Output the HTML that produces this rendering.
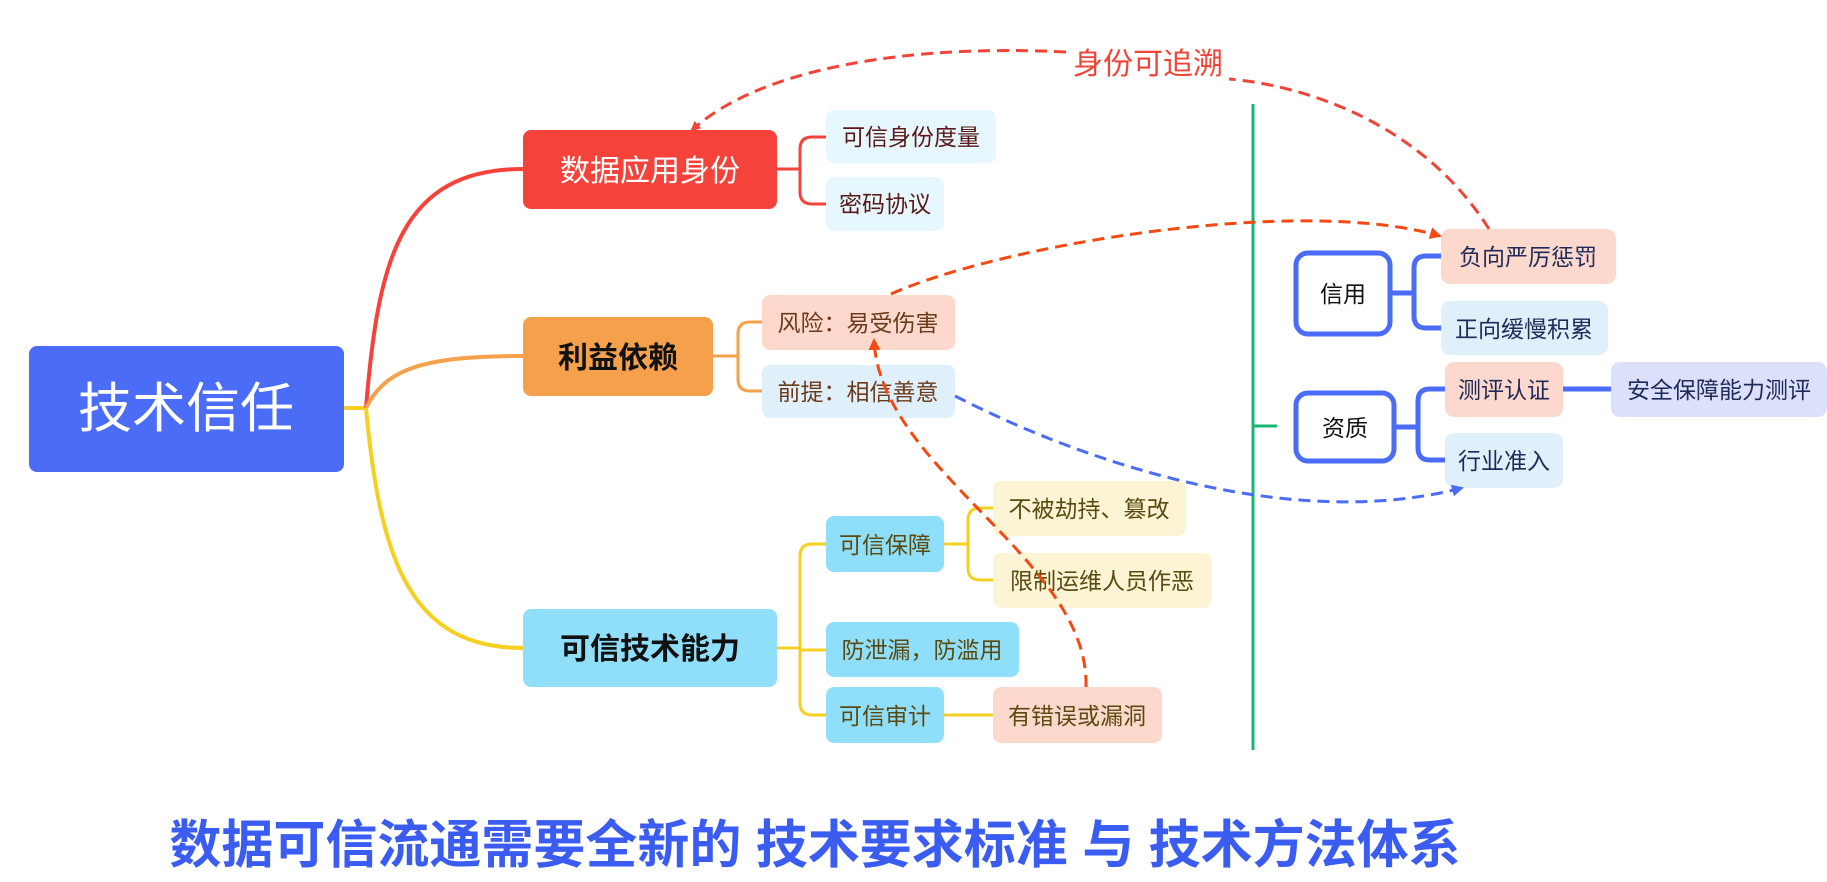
<!DOCTYPE html>
<html><head><meta charset="utf-8"><style>
html,body{margin:0;padding:0;background:#fff;}
svg{display:block;}
text{font-family:"Liberation Sans","Noto Sans CJK SC",sans-serif;}
</style></head><body>
<svg width="1827" height="882" viewBox="0 0 1827 882" xmlns="http://www.w3.org/2000/svg">
<defs>
<marker id="ar" markerWidth="10" markerHeight="10" refX="8" refY="5" orient="auto" markerUnits="userSpaceOnUse"><path d="M0,0 L10,5 L0,10 z" fill="#f04438"/></marker>
<marker id="ao" markerWidth="12" markerHeight="12" refX="10" refY="6" orient="auto" markerUnits="userSpaceOnUse"><path d="M0,0 L12,6 L0,12 z" fill="#f24a12"/></marker>
<marker id="ab" markerWidth="12" markerHeight="12" refX="10" refY="6" orient="auto" markerUnits="userSpaceOnUse"><path d="M0,0 L12,6 L0,12 z" fill="#4a6cf7"/></marker>
</defs>

<line x1="344" y1="408" x2="366" y2="408" stroke="#f5d020" stroke-width="4"/>
<path d="M366,408 C378,260 400,169 523,169" fill="none" stroke="#f5433b" stroke-width="4"/>
<path d="M366,408 C385,370 420,356 523,356" fill="none" stroke="#f5a04a" stroke-width="4"/>
<path d="M366,408 C380,560 410,648 523,648" fill="none" stroke="#f5d020" stroke-width="4"/>

<g fill="none" stroke-width="3">
<path d="M777,169 H800 M826,137 H812 Q800,137 800,149 V192 Q800,204 812,204 H826" stroke="#f5433b"/>
<path d="M713,356 H738 M762,322 H750 Q738,322 738,334 V379 Q738,391 750,391 H762" stroke="#f5a04a"/>
<path d="M777,648 H800 M826,544 H812 Q800,544 800,556 V703 Q800,715 812,715 H826 M800,650 H826" stroke="#f5d020"/>
<path d="M944,544 H968 M993,508 H980 Q968,508 968,520 V568 Q968,580 980,580 H993" stroke="#f5d020"/>
<path d="M944,715 H993" stroke="#f5d020"/>
</g>
<g fill="none" stroke="#4a6cf7" stroke-width="5">
<path d="M1390,293 H1414 M1441,256 H1426 Q1414,256 1414,268 V316 Q1414,328 1426,328 H1441"/>
<path d="M1394,427 H1418 M1445,389 H1430 Q1418,389 1418,401 V448 Q1418,460 1430,460 H1445"/>
<path d="M1563,389 H1611"/>
</g>
<line x1="1253" y1="104" x2="1253" y2="750" stroke="#18b574" stroke-width="3"/>
<line x1="1253" y1="426" x2="1277" y2="426" stroke="#18b574" stroke-width="3"/>

<rect x="29" y="346" width="315" height="126" rx="8" fill="#4a6cf7"/>
<text x="186" y="427" font-size="54" fill="#fff" text-anchor="middle">技术信任</text>

<rect x="523" y="130" width="254" height="79" rx="8" fill="#f5433b"/>
<text x="650" y="181" font-size="30" fill="#fff" text-anchor="middle">数据应用身份</text>
<rect x="523" y="317" width="190" height="79" rx="8" fill="#f5a04a"/>
<text x="618" y="368" font-size="30" fill="#111" font-weight="bold" text-anchor="middle">利益依赖</text>
<rect x="523" y="609" width="254" height="78" rx="8" fill="#90dffa"/>
<text x="650" y="659" font-size="30" fill="#111" font-weight="bold" text-anchor="middle">可信技术能力</text>

<g font-size="23" text-anchor="middle">
<rect x="826" y="110" width="170" height="53" rx="8" fill="#e6f7fd"/><text x="911" y="145" fill="#5a1818">可信身份度量</text>
<rect x="826" y="177" width="118" height="54" rx="8" fill="#e6f7fd"/><text x="885" y="212" fill="#5a1818">密码协议</text>
<rect x="762" y="295" width="193" height="55" rx="8" fill="#fdd9cd"/><text x="858" y="331" fill="#6b3a1a">风险：易受伤害</text>
<rect x="762" y="365" width="193" height="53" rx="8" fill="#dff0fb"/><text x="858" y="400" fill="#6b3a1a">前提：相信善意</text>
<rect x="826" y="516" width="118" height="56" rx="8" fill="#90dffa"/><text x="885" y="553" fill="#5a4a10">可信保障</text>
<rect x="826" y="622" width="193" height="55" rx="8" fill="#90dffa"/><text x="922" y="658" fill="#5a4a10">防泄漏，防滥用</text>
<rect x="826" y="687" width="118" height="56" rx="8" fill="#90dffa"/><text x="885" y="724" fill="#5a4a10">可信审计</text>
<rect x="993" y="481" width="193" height="55" rx="8" fill="#fcf4d4"/><text x="1089" y="517" fill="#5a4a10">不被劫持、篡改</text>
<rect x="993" y="553" width="219" height="55" rx="8" fill="#fcf4d4"/><text x="1102" y="589" fill="#5a4a10">限制运维人员作恶</text>
<rect x="993" y="687" width="169" height="56" rx="8" fill="#fdd9cd"/><text x="1077" y="724" fill="#5a4a10">有错误或漏洞</text>

<rect x="1441" y="229" width="175" height="55" rx="9" fill="#fdd9cd"/><text x="1528" y="265" fill="#1e2a5a">负向严厉惩罚</text>
<rect x="1441" y="301" width="167" height="54" rx="9" fill="#dff0fb"/><text x="1524" y="337" fill="#1e2a5a">正向缓慢积累</text>
<rect x="1445" y="362" width="118" height="55" rx="9" fill="#fdd9cd"/><text x="1504" y="398" fill="#1e2a5a">测评认证</text>
<rect x="1445" y="433" width="118" height="55" rx="9" fill="#dff0fb"/><text x="1504" y="469" fill="#1e2a5a">行业准入</text>
<rect x="1611" y="362" width="216" height="55" rx="9" fill="#dde0fb"/><text x="1719" y="398" fill="#1e2a5a">安全保障能力测评</text>
</g>
<rect x="1296" y="253" width="94" height="81" rx="12" fill="#fff" stroke="#4a6cf7" stroke-width="5"/>
<text x="1343" y="302" font-size="23" fill="#111" text-anchor="middle">信用</text>
<rect x="1296" y="393" width="98" height="68" rx="12" fill="#fff" stroke="#4a6cf7" stroke-width="5"/>
<text x="1345" y="436" font-size="23" fill="#111" text-anchor="middle">资质</text>

<g fill="none" stroke-width="3" stroke-dasharray="12,7">
<path d="M1489,229 C1420,120 1300,85 1229,79" stroke="#f04438"/>
<path d="M1066,52 C909,44 760,68 692,130" stroke="#f04438" marker-end="url(#ar)"/>
<path d="M891,294 C1000,245 1300,195 1440,236" stroke="#f24a12" marker-end="url(#ao)"/>
<path d="M1086,687 C1090,560 880,470 874,340" stroke="#f24a12" marker-end="url(#ao)"/>
<path d="M955,396 C1100,470 1300,530 1462,488" stroke="#4a6cf7" marker-end="url(#ab)"/>
</g>
<text x="1148" y="74" font-size="30" fill="#f04438" text-anchor="middle">身份可追溯</text>

<text x="815" y="863" font-size="52" font-weight="bold" fill="#3b5cf0" text-anchor="middle">数据可信流通需要全新的 技术要求标准 与 技术方法体系</text>
</svg>
</body></html>
